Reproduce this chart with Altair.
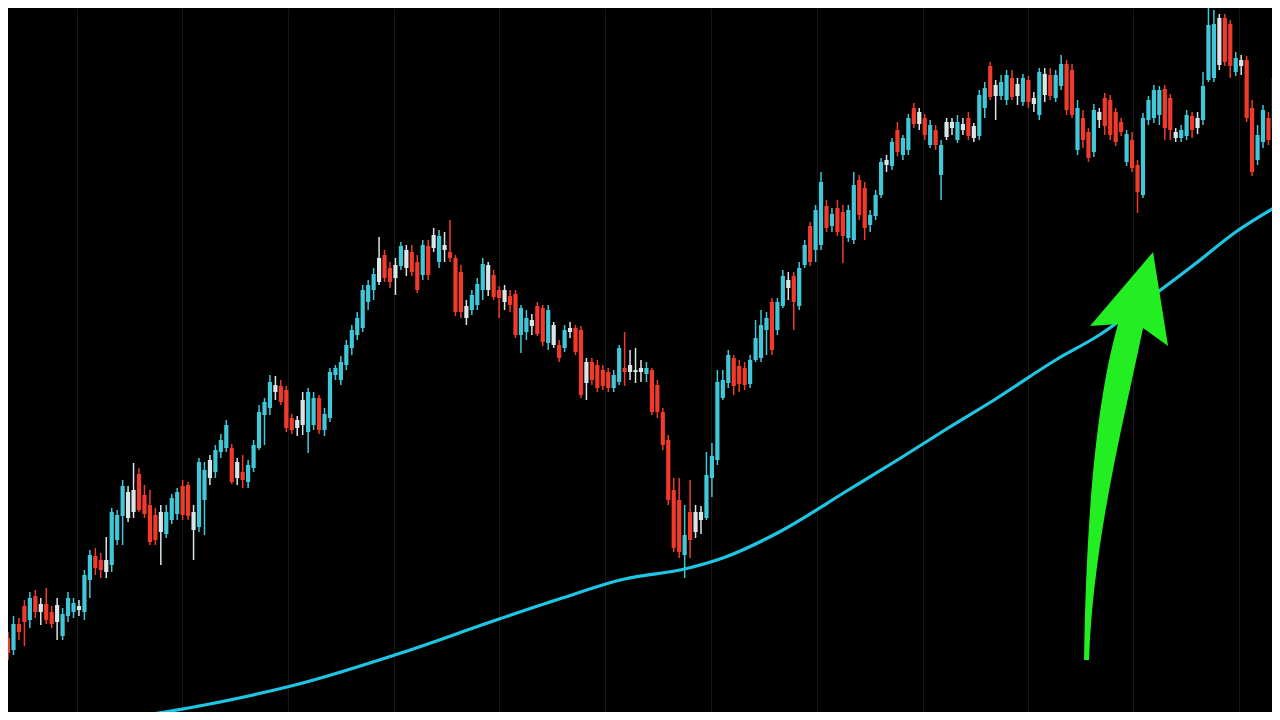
import altair as alt
import pandas as pd

# ---- candle data (one candle per session, prices in chart units) ----
opens = [82,70,96,114,100,124,108,116,108,98,
         84,104,108,114,108,140,164,160,160,155,
         180,204,228,208,246,225,215,205,188,186,
         200,206,234,235,190,193,220,242,248,268,
         272,272,242,248,238,252,272,305,312,335,
         334,330,302,292,295,288,295,322,290,302,
         345,340,355,372,385,392,418,430,438,465,
         452,442,454,470,468,458,445,474,472,458,
         475,468,462,448,402,410,415,430,455,445,
         430,418,424,426,385,388,400,414,412,377,
         375,375,372,388,392,390,337,358,355,350,
         348,332,338,352,348,350,348,346,350,335,
         308,280,230,220,165,208,188,200,202,242,
         260,322,337,362,354,352,336,360,362,390,
         418,390,414,440,444,414,455,494,470,475,
         514,494,512,508,482,480,540,532,495,504,
         525,555,554,590,565,570,612,596,602,575,
         590,545,583,592,580,596,602,582,584,612,
         654,635,624,620,642,624,618,640,616,605,
         646,645,622,634,656,650,570,602,588,568,
         608,622,620,608,598,558,580,555,525,600,
         602,605,631,622,582,582,584,604,592,600,
         640,642,655,702,696,648,660,660,612,560,
         578,602,592]
highs = [88,104,102,120,128,130,122,132,114,122,
         112,128,122,120,150,170,172,167,183,212,
         210,240,234,257,252,235,230,212,215,215,
         226,232,240,238,215,262,258,265,275,286,
         300,276,262,265,260,280,315,322,345,344,
         340,334,306,304,328,332,328,325,312,352,
         355,364,380,395,408,435,440,452,483,470,
         458,462,478,475,475,465,480,480,492,490,
         488,500,465,455,420,430,442,462,458,450,
         434,435,430,430,415,410,406,418,415,415,
         398,380,395,398,395,394,362,362,360,355,
         352,350,375,388,370,372,360,358,352,340,
         312,285,242,242,215,240,215,214,268,277,
         350,350,370,365,360,358,365,400,410,408,
         422,422,450,448,448,458,480,498,515,548,
         520,512,520,515,515,548,545,538,510,530,
         562,565,582,598,585,606,617,612,606,600,
         595,580,602,602,605,602,608,597,630,638,
         658,640,645,650,650,642,646,644,628,652,
         652,652,650,665,660,656,620,610,592,616,
         612,627,625,612,602,590,588,560,607,624,
         635,634,635,626,592,595,610,608,608,648,
         720,710,706,706,700,668,665,664,620,595,
         615,608,648]
lows = [60,65,80,74,92,102,95,96,92,80,
        80,98,102,104,100,122,145,142,142,148,
        175,175,198,202,208,202,175,175,155,182,
        196,200,200,200,160,188,185,235,242,262,
        268,236,235,232,232,248,270,275,305,320,
        315,288,286,284,285,267,290,286,284,298,
        340,335,350,365,380,388,410,420,435,438,
        432,425,450,444,444,427,440,440,468,452,
        458,458,404,402,395,405,410,420,424,420,
        402,410,408,382,367,380,385,384,374,370,
        372,358,368,382,365,322,320,335,328,330,
        328,328,335,334,340,337,338,338,305,302,
        270,215,168,162,142,162,182,186,200,223,
        255,320,332,325,328,330,332,358,358,365,
        365,385,412,420,390,410,452,454,458,470,
        488,488,484,457,478,476,500,480,488,500,
        522,548,550,564,560,565,592,590,580,572,
        570,520,580,585,577,585,580,578,580,602,
        620,600,620,615,620,615,614,612,608,600,
        618,620,618,630,605,602,565,572,558,563,
        592,585,580,574,584,554,548,507,522,595,
        597,595,580,580,578,578,580,582,586,595,
        638,638,650,654,642,644,645,598,544,555,
        572,575,573]
closes = [67,96,88,98,122,108,116,100,96,115,
          106,122,117,110,145,165,152,150,148,208,
          205,234,202,230,210,206,178,180,208,208,
          222,228,205,204,208,258,250,260,270,280,
          295,238,258,240,255,275,308,318,338,328,
          318,292,290,300,320,328,322,290,306,348,
          352,358,375,390,402,430,435,446,462,442,
          438,455,474,452,448,430,475,445,485,484,
          470,462,408,408,414,425,436,456,430,423,
          422,430,415,385,412,402,394,386,378,410,
          395,362,390,392,368,325,358,340,332,334,
          332,345,372,348,355,348,352,352,308,308,
          275,220,172,168,185,180,208,208,245,264,
          338,340,365,334,336,335,360,382,395,402,
          370,418,444,432,418,452,475,458,510,538,
          492,506,488,484,510,535,505,492,505,525,
          558,560,578,568,582,602,596,608,585,595,
          575,575,598,598,598,590,584,594,625,632,
          623,624,638,645,623,636,642,618,622,648,
          625,624,645,656,610,605,612,580,562,610,
          600,594,585,578,588,586,552,528,602,620,
          630,630,592,590,588,590,605,590,602,634,
          695,696,702,658,654,662,654,602,548,585,
          610,580,642]
# sessions whose small bodies show up pale in the picture
doji_idx = [6,9,13,18,22,23,28,34,37,42,49,53,54,68,71,73,78,80,84,88,91,96,
            100,103,106,114,115,116,126,127,143,161,167,172,173,175,177,181,185,
            188,190,200,214,218,222,226]

# ---- long moving average ----
ma_idx = [14,20,36,54,72,90,101,113,124,131,141,154,163,172,181,192,200,210,218,225,232]
ma_val = [-6,0,15,37,67,101,121,141,151,162,187,230,260,291,321,360,385,425,458,488,512]

# ---- vertical grid (period separators) ----
grid_ticks = [12.55,31.82,51.27,70.73,90.0,109.45,128.9,148.2,167.6,186.9,206.2,225.6]

# ---- arrow annotation anchor ----
arrow_idx = [204.9]
arrow_price = [264]

n = min(len(opens), len(highs), len(lows), len(closes))
kind = []
for i in range(n):
    if i in doji_idx:
        kind.append("doji")
    elif closes[i] >= opens[i]:
        kind.append("up")
    else:
        kind.append("down")

candles = pd.DataFrame({
    "idx": list(range(n)),
    "open": opens[:n], "high": highs[:n], "low": lows[:n], "close": closes[:n],
    "kind": kind,
})
ma = pd.DataFrame({"idx": ma_idx, "price": ma_val})
arrow = pd.DataFrame({"idx": arrow_idx, "price": arrow_price})

# arrow outline (shape style), offsets in px from its centre, half-extent 205 px
HALF = 205.0


def p(dx, dy):
    return f"{dx / HALF:.4f},{dy / HALF:.4f}"


ARROW_PATH = (
    "M" + p(27, -204)            # tip
    + " L" + p(42, -110)         # right barb
    + " L" + p(17, -128)         # right notch
    + " C" + p(-2, -36) + " " + p(-33, 84) + " " + p(-37, 204)   # right edge of shaft
    + " L" + p(-42, 204)         # tail
    + " C" + p(-40, 64) + " " + p(-30, -56) + " " + p(-8, -132)  # left edge of shaft
    + " L" + p(-36, -130)        # left barb
    + " Z"
)

xs = alt.Scale(domain=[0.909, 230.73], nice=False, zero=False)
ys = alt.Scale(domain=[8, 712], nice=False, zero=False)
x_axis = alt.Axis(values=grid_ticks, grid=True, gridColor="#171717", gridWidth=1,
                  labels=False, ticks=False, domain=False, title=None)
X = alt.X("idx:Q", scale=xs, axis=x_axis)

color = alt.Color("kind:N",
                  scale=alt.Scale(domain=["up", "down", "doji"],
                                  range=["#40c8d9", "#f23a2b", "#d8e6e8"]),
                  legend=None)

wicks = alt.Chart(candles).mark_rule(strokeWidth=1.5, clip=True).encode(
    x=X, y=alt.Y("low:Q", scale=ys, axis=None), y2="high:Q", color=color)
bodies = alt.Chart(candles).mark_bar(size=4.2, clip=True).encode(
    x=X, y=alt.Y("open:Q", scale=ys, axis=None), y2="close:Q", color=color)
ma_line = alt.Chart(ma).mark_line(strokeWidth=3.2, color="#1ec6e4",
                                  interpolate="monotone", clip=True).encode(
    x=X, y=alt.Y("price:Q", scale=ys, axis=None))
arrow_mark = alt.Chart(arrow).mark_point(shape=ARROW_PATH, size=(2 * HALF) ** 2,
                                         filled=True, color="#22ee22", opacity=1,
                                         strokeWidth=0, clip=True).encode(
    x=X, y=alt.Y("price:Q", scale=ys, axis=None))

chart = alt.layer(wicks, bodies, ma_line, arrow_mark).properties(
    width=1264, height=704, background="black", padding=0,
    autosize=alt.AutoSizeParams(type="none"),
).configure_view(strokeWidth=0)

chart.save("out.html", embed_options={"renderer": "svg", "actions": False})
